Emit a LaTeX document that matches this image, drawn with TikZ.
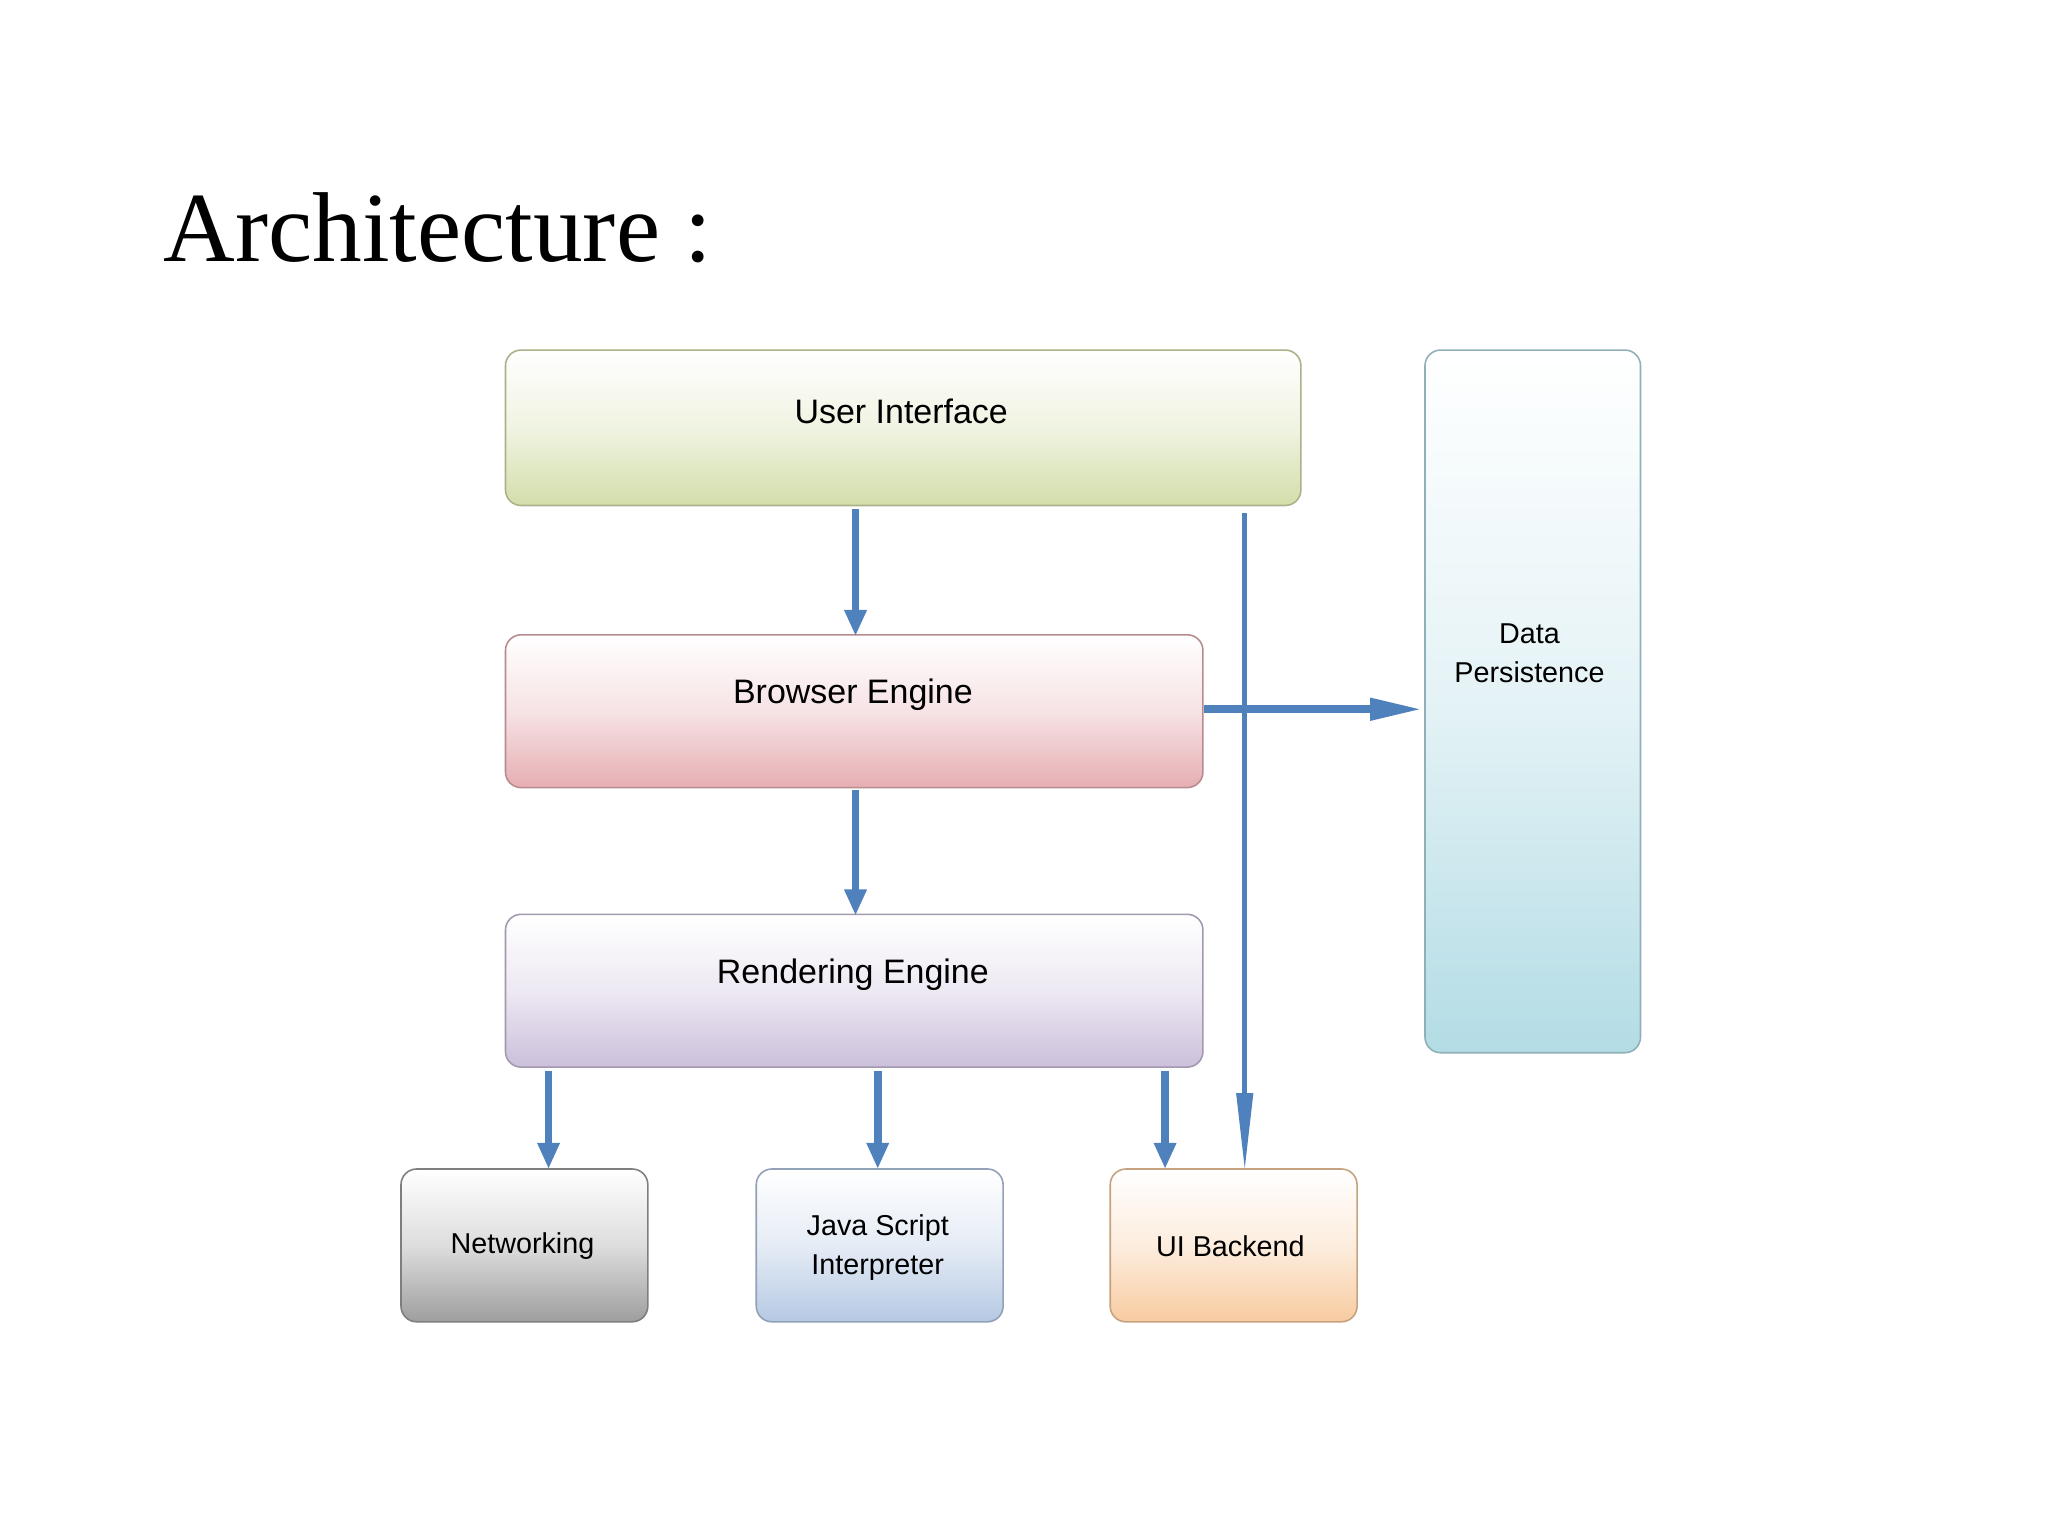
\documentclass[tikz,border=0pt]{standalone}
\usepackage{fontspec}
\setmainfont{Liberation Sans}
\newfontfamily\titlefont{Liberation Serif}
\usetikzlibrary{arrows.meta}
\definecolor{arr}{HTML}{4F81BD}
\definecolor{cUI}{HTML}{D3DEAA}
\definecolor{cBE}{HTML}{E6AEB3}
\definecolor{cRE}{HTML}{CCBFDB}
\definecolor{cNet}{HTML}{9E9E9E}
\definecolor{cJS}{HTML}{B5C9E3}
\definecolor{cUB}{HTML}{F8CBA0}
\definecolor{cDP}{HTML}{B3DCE5}
\tikzset{
 box/.style={rounded corners=12pt, draw=#1!80!black, line width=1.2pt, top color=white, bottom color=#1, middle color=#1!35, inner sep=0pt, align=center, text=black!85},
 big/.style={font=\fontsize{26}{30}\selectfont},
 small/.style={font=\fontsize{22}{30}\selectfont},
 ar/.style={draw=arr, line width=6pt, -{Triangle[width=16pt,length=20pt]}},
 thin/.style={draw=arr, line width=4pt, -{Triangle[width=12pt,length=60pt]}},
}
\begin{document}
\begin{tikzpicture}[x=1pt,y=-1pt]
\useasboundingbox (0,0) rectangle (1568,1176);
\fill[white] (0,0) rectangle (1568,1176);
\node[anchor=base west, font=\titlefont\fontsize{76}{80}\selectfont] (title) at (122,200) {Architecture :};
\path[box=cUI, big] (387,268) rectangle (996,387);
\node[big] (ui) at (690,315) {User Interface};
\coordinate (uiR) at (996,387);
\path[box=cBE, big] (387,486) rectangle (921,603);
\node[big] (be) at (653,532) {Browser Engine};
\path[box=cRE, big] (387,700) rectangle (921,817);
\node[big] (re) at (653,746) {Rendering Engine};
\path[box=cNet] (307,895) rectangle (496,1012);
\node[small] (net) at (400,954) {Networking};
\path[box=cJS] (579,895) rectangle (768,1012);
\node[small, align=center] (js) at (672,955) {Java Script\\Interpreter};
\path[box=cUB] (850,895) rectangle (1039,1012);
\node[small] (ub) at (942,954) {UI Backend};
\path[box=cDP] (1091,268) rectangle (1256,806);
\node[small, align=center] (dp) at (1171,500) {Data\\Persistence};
\coordinate (a1) at (655,390); \coordinate (a1e) at (655,487);
\coordinate (a2) at (655,605); \coordinate (a2e) at (655,701);
\coordinate (a3) at (420,820); \coordinate (a3e) at (420,895);
\coordinate (a4) at (672,820); \coordinate (a4e) at (672,895);
\coordinate (a5) at (892,820); \coordinate (a5e) at (892,895);
\coordinate (l1) at (953,393); \coordinate (l1e) at (953,897);
\coordinate (h1) at (922,543); \coordinate (h1e) at (1089,543);
\draw[ar] (a1) -- (a1e);
\draw[ar] (a2) -- (a2e);
\draw[ar] (a3) -- (a3e);
\draw[ar] (a4) -- (a4e);
\draw[ar] (a5) -- (a5e);
\draw[draw=arr, line width=6pt, -{Triangle[width=16pt,length=40pt]}] (h1) -- (h1e);
\draw[thin] (l1) -- (l1e);
\end{tikzpicture}
\end{document}
